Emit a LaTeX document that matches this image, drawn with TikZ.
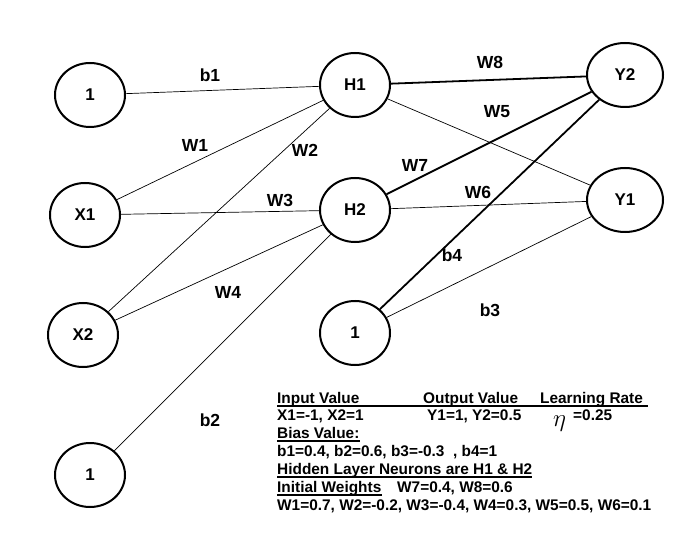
\documentclass[tikz,border=0pt]{standalone}
\usepackage{fontspec}
\setmainfont{Liberation Sans}
\usetikzlibrary{shapes.geometric}
\begin{document}
\begin{tikzpicture}[x=1pt,y=-1pt,
 neu/.style={ellipse,draw,line width=2pt,minimum width=70pt,minimum height=64pt,font=\bfseries\fontsize{17}{19}\selectfont},
 ed/.style={line width=0.7pt},
 th/.style={line width=1.8pt},
 lab/.style={font=\bfseries\fontsize{17.5}{19}\selectfont},
 txt/.style={anchor=base west,inner sep=0pt,font=\bfseries\fontsize{15.4}{17}\selectfont},
 ul/.style={line width=1.2pt}]
\useasboundingbox (0,0) rectangle (700,534);
\node[neu] (i1) at (90,95) {1};
\node[neu] (x1) at (85,215) {X1};
\node[neu] (x2) at (83,335) {X2};
\node[neu] (i2) at (90,475) {1};
\node[neu] (h1) at (355,85) {H1};
\node[neu] (h2) at (355,210) {H2};
\node[neu] (i3) at (355,333) {1};
\node[neu,minimum width=76pt] (y2) at (625,75) {Y2};
\node[neu,minimum width=76pt] (y1) at (625,200) {Y1};
\draw[ed] (i1)--(h1); \draw[ed] (x1)--(h1); \draw[ed] (x1)--(h2);
\draw[ed] (x2)--(h1); \draw[ed] (x2)--(h2); \draw[ed] (i2)--(h2);
\draw[th] (h1)--(y2); \draw[ed] (h1)--(y1);
\draw[th] (h2)--(y2); \draw[ed] (h2)--(y1);
\draw[th] (i3)--(y2); \draw[ed] (i3)--(y1);
\node[lab] (lb1) at (210,75) {b1};
\node[lab] (lw1) at (195,145) {W1};
\node[lab] (lw2) at (305,150) {W2};
\node[lab] (lw3) at (280,200) {W3};
\node[lab] (lw4) at (228,292) {W4};
\node[lab] (lb2) at (210,420) {b2};
\node[lab] (lw8) at (490,62) {W8};
\node[lab] (lw5) at (497,112) {W5};
\node[lab] (lw7) at (415,165) {W7};
\node[lab] (lw6) at (478,192) {W6};
\node[lab] (lb4) at (452,255) {b4};
\node[lab] (lb3) at (490,310) {b3};
\node[txt] (t1) at (277,403) {Input Value};
\node[txt] (t2) at (423,403) {Output Value};
\node[txt] (t3) at (540,403) {Learning Rate};
\coordinate (u1) at (277,406); \coordinate (u2) at (648,406);
\draw[ul] (u1)--(u2);
\node[txt] (t4) at (277,420) {X1=-1, X2=1};
\node[txt] (t5) at (427,420) {Y1=1, Y2=0.5};
\node[txt,font=\fontsize{26}{26}\selectfont] (t6) at (553,426) {$\eta$};
\node[txt] (t7) at (573,420) {=0.25};
\node[txt] (t8) at (277,438) {Bias Value:};
\draw[ul] (t8.base west)++(0,3) coordinate (a8) -- (a8 -| t8.east);
\node[txt] (t9) at (277,456) {b1=0.4, b2=0.6, b3=-0.3 \ , b4=1};
\node[txt] (t10) at (277,474) {Hidden Layer Neurons are H1 \& H2};
\draw[ul] (t10.base west)++(0,3) coordinate (a10) -- (a10 -| t10.east);
\node[txt] (t11) at (277,492) {Initial Weights};
\draw[ul] (t11.base west)++(0,3) coordinate (a11) -- (a11 -| t11.east);
\node[txt] (t12) at (397,492) {W7=0.4, W8=0.6};
\node[txt] (t13) at (277,510) {W1=0.7, W2=-0.2, W3=-0.4, W4=0.3, W5=0.5, W6=0.1};
\end{tikzpicture}
\end{document}
